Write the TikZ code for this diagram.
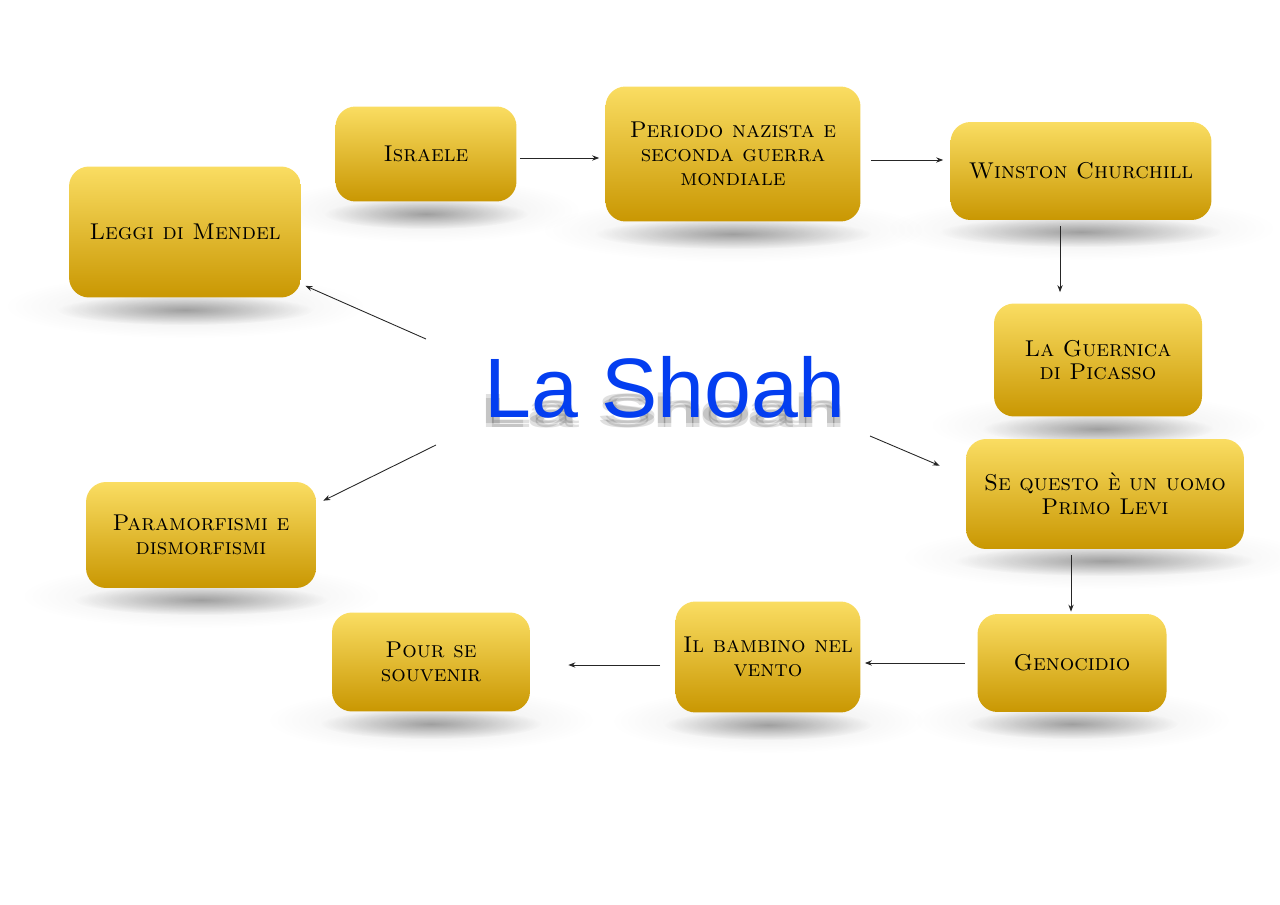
\documentclass[tikz,border=0pt]{standalone}
\usepackage{fontspec}
\newfontfamily\titlefont{Liberation Sans}
\usetikzlibrary{arrows.meta,calc,fadings}
\definecolor{boxtop}{RGB}{250,221,98}
\definecolor{boxbot}{RGB}{201,151,2}
\definecolor{shoahblue}{RGB}{4,62,240}
\tikzfading[name=blob, inner color=transparent!0, outer color=transparent!100]
\tikzset{
  box/.style={rounded corners=0.4cm, top color=boxtop, bottom color=boxbot, align=center, inner sep=2pt,
    font=\fontsize{13}{13.5}\selectfont\scshape\addfontfeature{LetterSpace=4,FakeBold=0.8}},
  arr/.style={-{Stealth[length=4pt,width=3pt]}, line width=0.5pt, black!85},
  titletext/.style={anchor=base, font=\titlefont\fontsize{48}{50}\selectfont},
  halo/.style={fill=black, opacity=0.09, path fading=blob},
  band/.style={fill=black, opacity=0.32, path fading=blob},
}
\begin{document}
\begin{tikzpicture}[x=0.02cm,y=-0.02cm]
\useasboundingbox (0,0) rectangle (1280,905);
% shadows under the boxes: centre x / bottom y / half width
\foreach \cx/\by/\hw in {185/298/116, 426/202/90, 733/222/127, 1081/220/130, 1098/417/104,
    1105/549/139, 1072/712/94, 768/713/92, 431/712/99, 201/588/115}
{
  \path[halo] (\cx,\by+8) ellipse [x radius=\hw+65, y radius=32];
  \path[band] (\cx,\by+12) ellipse [x radius=\hw+12, y radius=15];
}

% title with its shadow
\foreach \dx/\dy in {-3/-2, 3/-2, -3/2, 3/2}
  \node[titletext, text=black, opacity=0.12, yscale=0.5, transform shape] at (663+\dx,425+\dy) {La Shoah};
\node[titletext, text=shoahblue] (title) at (665,417) {La Shoah};

% boxes
\node[box, minimum width=4.64cm, minimum height=2.62cm] (mendel) at (185,232) {Leggi di Mendel};
\node[box, minimum width=3.62cm, minimum height=1.9cm] (israele) at (426,154) {Israele};
\node[box, minimum width=5.1cm, minimum height=2.7cm] (periodo) at (733,154) {Periodo nazista e\\seconda guerra\\mondiale};
\node[box, minimum width=5.22cm, minimum height=1.96cm] (church) at (1081,171) {Winston Churchill};
\node[box, minimum width=4.16cm, minimum height=2.26cm] (guern) at (1098,360) {La Guernica\\di Picasso};
\node[box, minimum width=5.56cm, minimum height=2.2cm] (levi) at (1105,494) {Se questo è un uomo\\Primo Levi};
\node[box, minimum width=3.78cm, minimum height=1.96cm] (geno) at (1072,663) {Genocidio};
\node[box, minimum width=3.7cm, minimum height=2.22cm] (bambino) at (768,657) {Il bambino nel\\vento};
\node[box, minimum width=3.96cm, minimum height=1.98cm] (pour) at (431,662) {Pour se\\souvenir};
\node[box, minimum width=4.6cm, minimum height=2.12cm] (paramorf) at (201,535) {Paramorfismi e\\dismorfismi};

% free ends of the spokes from the title
\coordinate (s1) at (426,339);
\coordinate (s2) at (436,445);
\coordinate (s3) at (870,436);

% connectors
\draw[arr] ($(israele.east)+(3,4)$) -- ($(periodo.west)+(-6,4)$);
\draw[arr] ($(periodo.east)+(10,6)$) -- ($(church.west)+(-7,-11)$);
\draw[arr] ($(church.south)+(-21,6)$) -- ($(guern.north)+(-38,-11)$);
\draw[arr] (s3) -- ($(levi.north west)+(-26,27)$);
\draw[arr] ($(levi.south)+(-34,6)$) -- ($(geno.north)+(-1,-2)$);
\draw[arr] ($(geno.west)+(-12,0)$) -- ($(bambino.east)+(4,6)$);
\draw[arr] ($(bambino.west)+(-15,8)$) -- ($(pour.east)+(38,3)$);
\draw[arr] (s1) -- ($(mendel.south east)+(4,-12)$);
\draw[arr] (s2) -- ($(paramorf.north east)+(7,19)$);
\end{tikzpicture}
\end{document}
